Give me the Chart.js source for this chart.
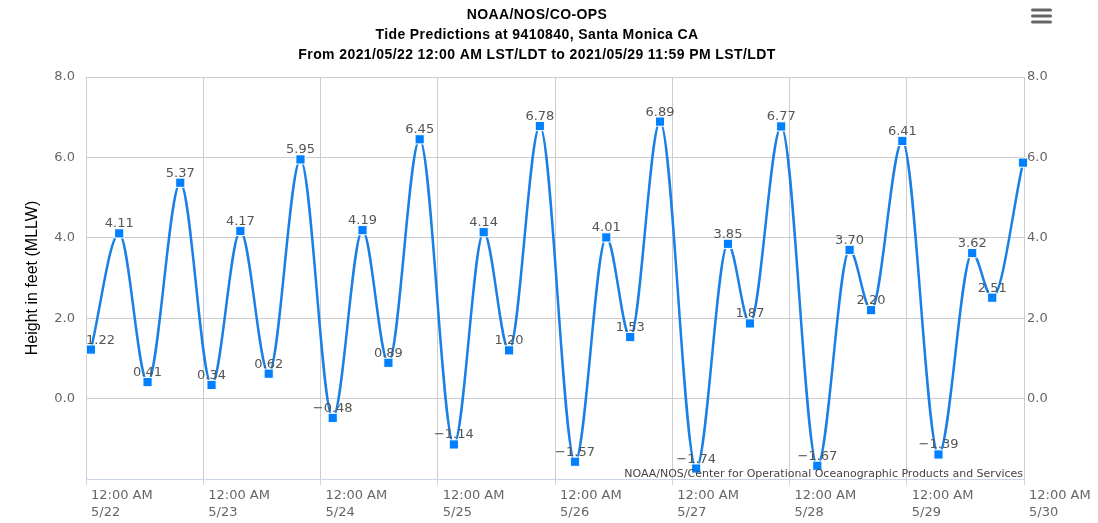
<!DOCTYPE html>
<html>
<head>
<meta charset="utf-8">
<script src="https://cdn.jsdelivr.net/npm/chart.js@4.4.1/dist/chart.umd.min.js"></script>
<style>
  html, body { margin: 0; padding: 0; background: #fff; }
</style>
</head>
<body>
<canvas id="tide" width="1098" height="523"></canvas>
<script>
'use strict';

// Hours since 2021-05-22 00:00 LST/LDT for each high / low tide
const tideHours = [1.0, 6.8, 12.6, 19.3, 25.7, 31.6, 37.4, 43.9, 50.5, 56.6, 61.9, 68.3,
  75.3, 81.4, 86.6, 92.9, 100.1, 106.5, 111.4, 117.5, 124.9, 131.4, 135.9, 142.3,
  149.7, 156.3, 160.7, 167.1, 174.5, 181.4, 185.5, 191.8];
// Predicted height in feet (MLLW)
const tideHeights = [1.22, 4.11, 0.41, 5.37, 0.34, 4.17, 0.62, 5.95, -0.48, 4.19, 0.89, 6.45,
  -1.14, 4.14, 1.20, 6.78, -1.57, 4.01, 1.53, 6.89, -1.74, 3.85, 1.87, 6.77,
  -1.67, 3.70, 2.20, 6.41, -1.39, 3.62, 2.51, 5.87];
const dayLabels = ['5/22', '5/23', '5/24', '5/25', '5/26', '5/27', '5/28', '5/29', '5/30'];
const titleLines = [
  'NOAA/NOS/CO-OPS',
  'Tide Predictions at 9410840, Santa Monica CA',
  'From 2021/05/22 12:00 AM LST/LDT to 2021/05/29 11:59 PM LST/LDT',
];
const yAxisTitle = 'Height in feet (MLLW)';
const creditText = 'NOAA/NOS/Center for Operational Oceanographic Products and Services';

const LABEL_FONT = '13px "DejaVu Sans", Verdana, sans-serif';

const fmt = v => v.toFixed(2).replace('-', '\u2212');

// ── Títulos, menú, créditos ──────────────────────────────────────────────────
const decorations = {
  id: 'decorations',
  afterDraw(chart) {
    const { ctx, chartArea: a } = chart;
    ctx.save();
    // title
    ctx.fillStyle = '#000';
    ctx.font = 'bold 14px "Liberation Sans", Arial, sans-serif';
    ctx.letterSpacing = '0.4px';
    ctx.textAlign = 'center';
    ctx.textBaseline = 'middle';
    titleLines.forEach((t, i) => ctx.fillText(t, 537, 15 + i * 20));
    ctx.letterSpacing = '0px';

    // hamburger
    ctx.fillStyle = '#666';
    [10, 16, 22].forEach(y => {
      ctx.beginPath();
      ctx.roundRect(1031, y - 1.5, 21, 3, 1.5);
      ctx.fill();
    });

    // y title
    ctx.save();
    ctx.translate(33, (a.top + a.bottom) / 2);
    ctx.rotate(-Math.PI / 2);
    ctx.font = '16px "Liberation Sans", Arial, sans-serif';
    ctx.fillStyle = '#000';
    ctx.fillText(yAxisTitle, 0, 0);
    ctx.restore();

    // credits
    ctx.font = '11px "DejaVu Sans", Verdana, sans-serif';
    ctx.fillStyle = '#444';
    ctx.textAlign = 'right';
    ctx.textBaseline = 'alphabetic';
    ctx.fillText(creditText, a.right - 1, a.bottom - 2);
    ctx.restore();
  },
};

// ── Etiquetas de valor ───────────────────────────────────────────────────────
const valueLabels = {
  id: 'valueLabels',
  afterDatasetsDraw(chart) {
    const { ctx, chartArea: a } = chart;
    const meta = chart.getDatasetMeta(0);
    ctx.save();
    ctx.font = LABEL_FONT;
    ctx.fillStyle = '#555';
    ctx.textAlign = 'left';
    ctx.textBaseline = 'alphabetic';
    meta.data.forEach((pt, i) => {
      const txt = fmt(tideHeights[i]);
      const w = ctx.measureText(txt).width;
      let x = pt.x - w / 2;
      if (x + w > a.right) return;
      if (x < a.left) x = a.left;
      ctx.fillText(txt, x, pt.y - 6);
    });
    ctx.restore();
  },
};

new Chart(document.getElementById('tide'), {
  type: 'line',
  data: {
    datasets: [{
      data: tideHours.map((h, i) => ({ x: h, y: tideHeights[i] })),
      borderColor: '#1a80e5',
      borderWidth: 2.5,
      cubicInterpolationMode: 'monotone',
      pointStyle: 'rect',
      pointRadius: 6.5,
      pointBackgroundColor: '#0080ff',
      pointBorderColor: '#ffffff',
      pointBorderWidth: 1,
      clip: false,
      fill: false,
    }],
  },
  options: {
    responsive: false,
    animation: false,
    layout: { padding: { top: 77, left: 0, right: 0, bottom: 0 } },
    plugins: {
      legend: { display: false },
      tooltip: { enabled: false },
      title: { display: false },
    },
    scales: {
      x: {
        type: 'linear',
        min: 0,
        max: 192,
        afterFit: s => { s.height = 44; },
        grid: { color: '#cccccc', tickColor: '#ccd6eb', tickLength: 6 },
        border: { color: '#ccd6eb', width: 1 },
        ticks: {
          stepSize: 24,
          autoSkip: false,
          maxRotation: 0,
          align: 'start',
          labelOffset: 5,
          padding: 2,
          color: '#666',
          font: { family: '"DejaVu Sans", Verdana, sans-serif', size: 13, lineHeight: 1.3 },
          callback: v => (v % 24 === 0 ? ['12:00 AM', dayLabels[v / 24]] : ''),
        },
      },
      y: {
        position: 'left',
        min: -2,
        max: 8,
        afterFit: s => { s.width = 86; },
        grid: { color: '#cccccc', drawTicks: false },
        border: { display: false },
        ticks: {
          stepSize: 2,
          padding: 11,
          color: '#666',
          font: { family: '"DejaVu Sans", Verdana, sans-serif', size: 13 },
          callback: v => (v > -2 ? v.toFixed(1) : ''),
        },
      },
      y2: {
        position: 'right',
        min: -2,
        max: 8,
        afterFit: s => { s.width = 74; },
        grid: { display: false, drawTicks: false },
        border: { display: false },
        ticks: {
          stepSize: 2,
          padding: 3,
          color: '#666',
          font: { family: '"DejaVu Sans", Verdana, sans-serif', size: 13 },
          callback: v => (v > -2 ? v.toFixed(1) : ''),
        },
      },
    },
  },
  plugins: [valueLabels, decorations],
});
</script>
</body>
</html>
